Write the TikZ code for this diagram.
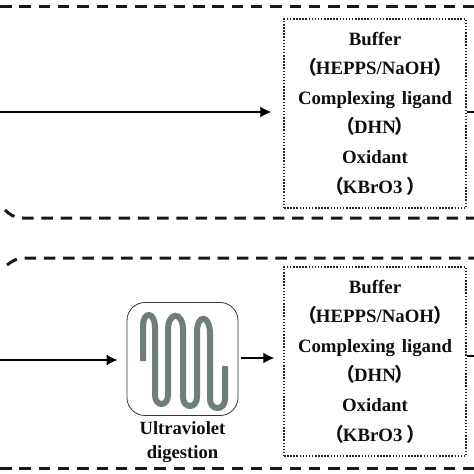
\documentclass[tikz,border=0pt]{standalone}
\usepackage{fontspec}
\setmainfont{Liberation Serif}
\newfontfamily\cjk{Noto Sans CJK SC}
\usetikzlibrary{positioning,arrows.meta}
\definecolor{tubegray}{HTML}{6F7D7D}
\newcommand{\lp}{{\cjk （}\kern-1pt}
\newcommand{\rp}{\kern-1pt{\cjk ）}}

\begin{document}
\begin{tikzpicture}[
    x=1pt, y=-1pt,
    panel/.style={line width=3pt, dash pattern=on 11.5pt off 7.8pt, color=black!90},
    reagent/.style={draw=black!85, line width=1.5pt, dash pattern=on 1.5pt off 1.6pt,
        minimum width=182pt, minimum height=189pt, inner sep=0pt, align=center,
        font=\fontsize{18.8}{29.6}\selectfont\bfseries, text=black!95},
    flow/.style={-{Latex[length=11pt,width=11pt]}, line width=1.4pt},
    stub/.style={line width=1.4pt},
    lamp/.style={draw=black!80, line width=0.8pt, rounded corners=18pt,
        minimum width=111pt, minimum height=113pt, inner sep=0pt},
    tube/.style={draw=tubegray, line width=6pt},
    caption/.style={font=\fontsize{18.6}{24}\selectfont\bfseries, align=center, text=black!95}
]
    \useasboundingbox (0,0) rectangle (474,474);

    % Upper panel
    \coordinate (topa) at (0,6);
    \coordinate (topb) at (474,6);
    \coordinate (topc) at (5,210);
    \coordinate (topd) at (474,218);
    \draw[panel] (topa) -- (topb);
    \draw[panel] (topc) .. controls (9,214) and (14,218) .. (23,218) -- (topd);

    % Lower panel
    \coordinate (lowa) at (7,265);
    \coordinate (lowb) at (474,258);
    \coordinate (lowc) at (0,468);
    \coordinate (lowd) at (474,468);
    \draw[panel] (lowa) .. controls (12,261) and (17,258) .. (25,258) -- (lowb);
    \draw[panel] (lowc) -- (lowd);

    % Reagent boxes
    \node[reagent] (boxa) at (375,113.5) {Buffer\\\lp HEPPS/NaOH\rp\\Complexing\ \kern2pt ligand\\\lp DHN\rp\\Oxidant\\\lp KBrO3 \rp};
    \node[reagent] (boxb) at (375,361.5) {Buffer\\\lp HEPPS/NaOH\rp\\Complexing\ \kern2pt ligand\\\lp DHN\rp\\Oxidant\\\lp KBrO3 \rp};

    % Ultraviolet lamp
    \node[lamp] (uv) at (182.5,359) {};
    \node[caption, below=2pt of uv] (uvname) {Ultraviolet\\digestion};
    \draw[tube] (143,361) -- (143,326)
        .. controls (143,311) and (155,311) .. (155,328) -- (155,395)
        .. controls (155,407) and (168,407) .. (168,395) -- (168,330)
        .. controls (168,311) and (183,311) .. (183,330) -- (183,397)
        .. controls (183,409) and (197,409) .. (197,397) -- (197,332)
        .. controls (197,314) and (210,314) .. (210,334) -- (210,399)
        .. controls (210,411) and (225,411) .. (225,399) -- (225,366);

    % Connections
    \coordinate (ina) at (0,112);
    \coordinate (inb) at (0,360);
    \coordinate (outa) at (474,112);
    \coordinate (outb) at (474,356);
    \draw[flow, shorten >=12pt] (ina) -- (boxa.west |- ina);
    \draw[flow, shorten >=9pt] (inb) -- (uv.west |- inb);
    \draw[flow, shorten <=3pt, shorten >=9pt] (uv.east |- 0,358) -- (boxb.west |- 0,358);
    \draw[stub] (boxa.east |- outa) -- (outa);
    \draw[stub] (boxb.east |- outb) -- (outb);
\end{tikzpicture}
\end{document}
